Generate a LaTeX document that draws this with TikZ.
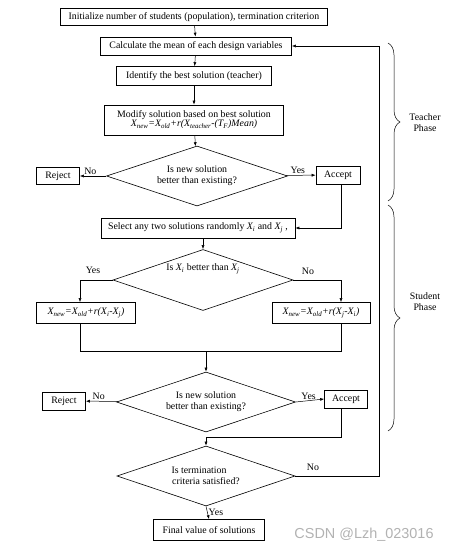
\documentclass[tikz,border=0pt]{standalone}
\usepackage{fontspec}
\setmainfont{Liberation Serif}
\newfontfamily\wmfont{Liberation Sans}
\usetikzlibrary{arrows.meta, shapes.geometric, decorations.pathreplacing}

\tikzset{
	box/.style={draw, line width=0.6pt, inner sep=0pt, align=center},
	decision/.style={draw, diamond, aspect=3, line width=0.6pt, inner sep=0pt, align=center},
	arr/.style={line width=0.5pt, -{Latex[length=4pt, width=3pt]}},
	con/.style={line width=0.5pt},
	lbl/.style={inner sep=1pt},
	phase/.style={line width=0.5pt, decorate, decoration={brace, amplitude=12bp}}
}

\begin{document}
\begin{tikzpicture}[x=1bp, y=-1bp, font=\fontsize{9.9}{11}\selectfont]
			\useasboundingbox (0,0) rectangle (454,552);

			% teacher phase
			\node[box, minimum width=267bp, minimum height=17bp] (init) at (194,17) {Initialize number of students (population), termination criterion};
			\node[box, minimum width=191bp, minimum height=18bp] (calc) at (196,46) {Calculate the mean of each design variables};
			\node[box, minimum width=155bp, minimum height=19bp] (best) at (194,76) {Identify the best solution (teacher)};
			\node[box, minimum width=179bp, minimum height=30bp] (modify) at (194,120) {Modify solution based on best solution\\[-2pt]
				\textit{X\textsubscript{new}=X\textsubscript{old}+r(X\textsubscript{teacher}-(T\textsubscript{F})Mean)}};
			\node[decision, minimum width=181bp, minimum height=60bp] (newA) at (197,176) {Is new solution\\better than existing?};
			\node[box, minimum width=43bp, minimum height=17bp] (rejectA) at (58,176) {Reject};
			\node[box, minimum width=44bp, minimum height=18bp] (acceptA) at (338,175) {Accept};

			% student phase
			\node[box, minimum width=194bp, minimum height=20bp] (select) at (198,228) {Select any two solutions randomly \textit{X\textsubscript{i}} and \textit{X\textsubscript{j}} ,};
			\node[decision, minimum width=180bp, minimum height=61bp] (cmp) at (203,280) {Is \textit{X\textsubscript{i}} better than \textit{X\textsubscript{j}}\\[14pt]};
			\node[box, minimum width=99bp, minimum height=21bp] (newL) at (86,313) {\textit{X\textsubscript{new}=X\textsubscript{old}+r(X\textsubscript{i}-X\textsubscript{j})}};
			\node[box, minimum width=98bp, minimum height=21bp] (newR) at (321,313) {\textit{X\textsubscript{new}=X\textsubscript{old}+r(X\textsubscript{j}-X\textsubscript{i})}};
			\node[decision, minimum width=179bp, minimum height=60bp] (newB) at (206,402) {Is new solution\\better than existing?};
			\node[box, minimum width=43bp, minimum height=18bp] (rejectB) at (64,401) {Reject};
			\node[box, minimum width=43bp, minimum height=18bp] (acceptB) at (346,399) {Accept};

			% termination
			\node[decision, minimum width=178bp, minimum height=60bp] (stop) at (206,476) {Is termination\hspace*{14pt}\\criteria satisfied?};
			\node[box, minimum width=111bp, minimum height=21bp] (final) at (209,530) {Final value of solutions};

			\coordinate (lcol) at (80,0);
			\coordinate (rcol) at (341,0);
			\coordinate (loop) at (379,0);
			\coordinate (joinA) at (206,351);
			\coordinate (joinB) at (206,437);

			\draw[arr] (init) -- (calc);
			\draw[arr] (calc) -- (best);
			\draw[arr] (best) -- (modify);
			\draw[arr] (modify) -- (newA);
			\draw[arr] (newA) -- (rejectA) node[lbl, pos=0.6, above] {No};
			\draw[arr] (newA) -- (acceptA) node[lbl, pos=0.4, above] {Yes};
			\draw[arr] (acceptA.south -| rcol) |- (select);

			\draw[arr] (select.south -| cmp.north) -- (cmp.north);
			\draw[arr] (cmp.west) -| (newL.north -| lcol);
			\draw[arr] (cmp.east) -| (newR.north -| rcol);
			\node[lbl] at (93,270) {Yes};
			\node[lbl] at (308,271) {No};
			\draw[con] (newL.south -| lcol) -- (lcol |- joinA) -- (rcol |- joinA) -- (newR.south -| rcol);
			\draw[arr] (joinA) -- (newB.north);
			\draw[arr] (newB) -- (rejectB) node[lbl, pos=0.6, above] {No};
			\draw[arr] (newB.east) -- (acceptB.west) node[lbl, pos=0.45, above] {Yes};
			\draw[arr] (acceptB.south -| rcol) |- (joinB) -- (stop.north);

			\draw[arr] (stop.east) -| (loop |- calc.east) -- (calc.east);
			\node[lbl] at (313,467) {No};
			\draw[arr] (stop.south) -- (final.north) node[lbl, midway, right] {Yes};

			% phase braces
			\draw[phase] (388,43) -- (388,201);
			\node[align=center] at (425,123) {Teacher\\Phase};
			\draw[phase] (388,205) -- (388,431);
			\node[align=center] at (425,302) {Student\\Phase};

			\node[text=black!30, font=\wmfont\fontsize{14.5}{16}\selectfont] at (364,535) {CSDN @Lzh\_023016};
\end{tikzpicture}
\end{document}
